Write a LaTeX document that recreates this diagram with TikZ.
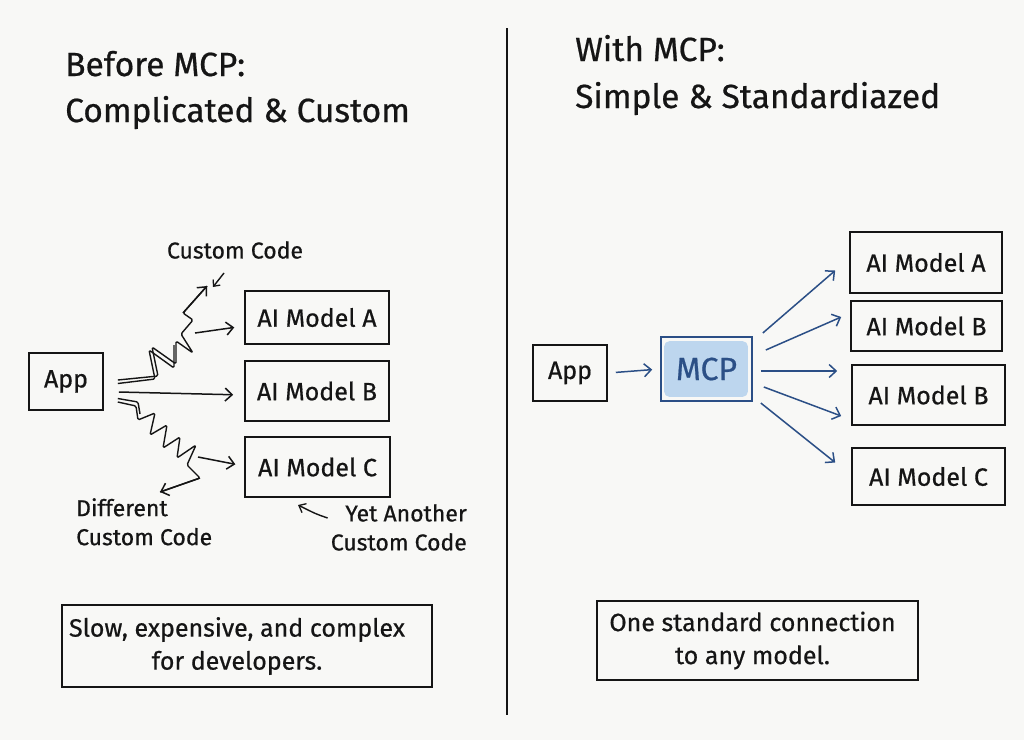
\documentclass[tikz,border=0pt]{standalone}
\usepackage{fontspec}
\setmainfont{Fira Sans}[FakeBold=0.6]
\usetikzlibrary{arrows.meta}
\definecolor{bg}{HTML}{F8F8F6}
\definecolor{ink}{HTML}{151515}
\definecolor{mcpblue}{HTML}{2B4F86}
\definecolor{mcpfill}{HTML}{BDD6EE}
\begin{document}
\begin{tikzpicture}[x=1pt,y=-1pt,
  box/.style={draw=ink, line width=1.6pt, inner sep=0pt, text=ink, font=\fontsize{25}{28}\selectfont},
  note/.style={text=ink, font=\fontsize{23}{29}\selectfont, inner sep=0pt},
  title/.style={text=ink, font=\fontsize{33.5}{40}\selectfont, anchor=base west, inner sep=0pt},
  summary/.style={draw=ink, line width=1.6pt, inner sep=0pt},
  summarytext/.style={align=center, text=ink, inner sep=0pt, font=\fontsize{25}{33}\selectfont},
  arr/.style={draw=ink, line width=1.5pt, -{Straight Barb[length=7pt,width=13pt,line width=1.5pt]}},
  barr/.style={draw=mcpblue, line width=1.5pt, -{Straight Barb[length=7pt,width=13pt,line width=1.5pt]}},
  zig/.style={draw=ink, line width=1.4pt, line join=round, rounded corners=1.5pt}
]
\fill[bg] (0,0) rectangle (1024,740);
\useasboundingbox (0,0) rectangle (1024,740);

% divider
\draw[ink, line width=1.4pt] (507,28) -- (507,715);

% ---------- left side ----------
\node[title] (t1) at (65,76) {Before MCP:};
\node[title] (t2) at (65,122) {Complicated \& Custom};

\node[box, minimum width=74pt, minimum height=57pt] (app) at (66,381.5) {App};
\node[box, minimum width=144pt, minimum height=53pt] (ma) at (317,317.5) {AI Model A};
\node[box, minimum width=144pt, minimum height=60pt] (mb) at (317,391) {AI Model B};
\node[box, minimum width=145pt, minimum height=60pt] (mc) at (317.5,467) {AI Model C};

\node[note] (cc) at (235,250) {Custom Code};
\node[note, align=left, anchor=north west] (dcc) at (76,498) {Different\\Custom Code};
\node[note, align=right, anchor=north east] (ycc) at (467,504) {Yet Another\\Custom Code};

\coordinate (z1end) at (207,286);
\coordinate (z2end) at (160,492);
\coordinate (ccend) at (213,287);
\coordinate (yccend) at (298,505);

% upper zigzag (doubled)
\draw[zig] ([shift={(14,-1.5)}]app.east) -- (158,376) -- (152,347) -- (176,364) -- (176,341) -- (193,353) -- (181,334) -- (193,320) -- (183,313) -- (z1end);
\draw[zig] ([shift={(14,2)}]app.east) -- (155,379) -- (149,350) -- (174,368) -- (174,345);
\draw[arr] (183,313) -- (z1end);
\draw[ink, line width=1.4pt, -{Straight Barb[length=5pt,width=9pt,line width=1.3pt]}] ([shift={(-11,14)}]cc.south) -- (ccend);

% straight arrows
\draw[arr, shorten >=10pt] (195,333) -- (ma.west |- 0,326);
\draw[arr, shorten >=11pt] ([shift={(15,10.5)}]app.east) -- (mb.west |- 0,395);
\draw[arr, shorten >=9pt] (198,457) -- (mc.west |- 0,466);

% lower zigzag (doubled)
\draw[zig] ([shift={(14,20.5)}]app.east) -- (136,406) -- (138,420) -- (155,413) -- (150,435) -- (167,425) -- (163,448) -- (180,437) -- (177,458) -- (196,445) -- (187,465) -- (200,478) -- (z2end);
\draw[zig] ([shift={(14,17)}]app.east) -- (138,402) -- (140,414);
\draw[arr] (200,478) -- (z2end);

% yet another arrow
\draw[ink, line width=1.4pt, -{Straight Barb[length=6pt,width=10pt,line width=1.3pt]}] ([shift={(-3,14)}]ycc.north west) .. controls (316,514) .. (yccend);

\node[summary, minimum width=370pt, minimum height=82pt] (s1) at (247,646) {};
\node[summarytext] (s1t) at ([xshift=-10pt]s1.center) {Slow, expensive, and complex\\for developers.};

% ---------- right side ----------
\node[title] (t3) at (575,61) {With MCP:};
\node[title] (t4) at (575,108) {Simple \& Standardiazed};

\node[box, minimum width=74pt, minimum height=56pt] (app2) at (570,373) {App};
\node[draw=mcpblue, line width=1.6pt, minimum width=91pt, minimum height=64pt, inner sep=0pt] (mcp) at (706.5,369) {};
\fill[mcpfill, rounded corners=5pt] ([shift={(4,-5)}]mcp.south west) rectangle ([shift={(-5,5)}]mcp.north east);
\node[text=mcpblue, font=\fontsize{32}{34}\selectfont, inner sep=0pt] (mcplabel) at (mcp.center) {MCP};

\node[box, minimum width=152pt, minimum height=61pt] (ra) at (926,262.5) {AI Model A};
\node[box, minimum width=151pt, minimum height=50pt] (rb1) at (926.5,326) {AI Model B};
\node[box, minimum width=153pt, minimum height=60pt] (rb2) at (928.5,395) {AI Model B};
\node[box, minimum width=153pt, minimum height=57pt] (rc) at (928.5,476.5) {AI Model C};

\draw[barr, shorten <=8pt, shorten >=8pt] (app2.east) -- (mcp.west);
\draw[barr] ([shift={(10,-36)}]mcp.east) -- ([shift={(-14,8)}]ra.west);
\draw[barr] ([shift={(13,-19)}]mcp.east) -- ([shift={(-9,-9)}]rb1.west);
\draw[barr] ([shift={(8,2)}]mcp.east) -- ([shift={(-14,-24)}]rb2.west);
\draw[barr] ([shift={(11,18)}]mcp.east) -- ([shift={(-10,21)}]rb2.west);
\draw[barr] ([shift={(8,34)}]mcp.east) -- ([shift={(-16,-14)}]rc.west);

\node[summary, minimum width=321pt, minimum height=79pt] (s2) at (757.5,640.5) {};
\node[summarytext] (s2t) at ([xshift=-5pt]s2.center) {One standard connection\\to any model.};
\end{tikzpicture}
\end{document}
